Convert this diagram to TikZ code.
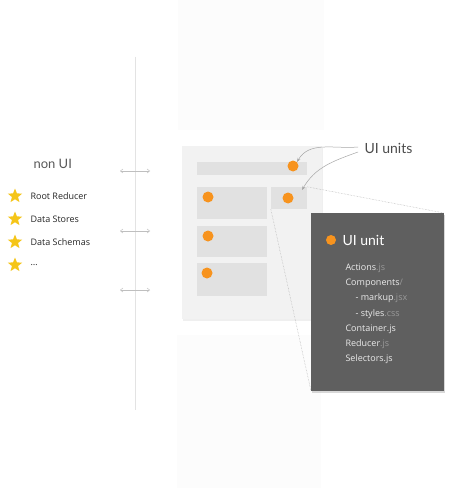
\documentclass[tikz,border=0pt]{standalone}
\usepackage{fontspec}
\setmainfont{Open Sans}
\newfontfamily\thinfont{Lato}
\usetikzlibrary{shapes.geometric,shadows,arrows.meta}

\definecolor{pagegray}{HTML}{F2F2F2}
\definecolor{bargray}{HTML}{E1E1E1}
\definecolor{ghostgray}{HTML}{FCFCFC}
\definecolor{unitorange}{HTML}{F7931E}
\definecolor{paneldark}{HTML}{5F5F5F}
\definecolor{stargold}{HTML}{F5C518}
\definecolor{linegray}{HTML}{C8C8C8}

\tikzset{
  bar/.style={fill=bargray, inner sep=0pt},
  unitdot/.style={circle, fill=unitorange, inner sep=0pt, minimum size=11pt},
  starmark/.style={star, star points=5, star point ratio=2.3, fill=stargold,
    inner sep=0pt, minimum size=15pt},
  item/.style={anchor=west, font=\fontsize{9}{10}\selectfont, text=black!85},
  file/.style={anchor=west, font=\fontsize{9}{10}\selectfont, text=white!92!black},
}

\begin{document}
\begin{tikzpicture}[x=1pt,y=-1pt]

  \def\xmin{0}
  \def\xmax{474}
  \def\ymin{0}
  \def\ymax{492}

  \useasboundingbox[fill=white] (\xmin,\ymin) rectangle (\xmax,\ymax);

  % divider
  \draw[linegray!50, line width=0.6pt] (135,57) -- (135,410);

  % ghost pages
  \fill[ghostgray] (178,0) rectangle (324,130);
  \fill[ghostgray] (177,335) rectangle (321,488);

  % page
  \node[fill=pagegray, inner sep=0pt, minimum width=140pt, minimum height=173pt,
        drop shadow={opacity=0.12, shadow xshift=1pt, shadow yshift=-2pt}]
        (page) at (252,232) {};
  \node[bar, minimum width=110pt, minimum height=13pt] (bartop) at (252,168.5) {};
  \node[bar, minimum width=70pt, minimum height=32pt] (boxa) at (232,203) {};
  \node[bar, minimum width=36pt, minimum height=22pt] (boxb) at (289,198) {};
  \node[bar, minimum width=70pt, minimum height=31pt] (boxc) at (232,241.5) {};
  \node[bar, minimum width=70pt, minimum height=33pt] (boxd) at (232,279.5) {};

  % ui units
  \node[unitdot] (dottop) at (293,166) {};
  \node[unitdot] (dota) at (208,197) {};
  \node[unitdot] (dotb) at (288,198) {};
  \node[unitdot] (dotc) at (208,236) {};
  \node[unitdot] (dotd) at (207,273) {};

  % zoom lines
  \coordinate (panelne) at (444,213);
  \coordinate (panelsw) at (311,391);
  \draw[gray!60, densely dotted, line width=0.5pt] (boxb.north east) -- (panelne);
  \draw[gray!60, densely dotted, line width=0.5pt] (boxb.south west) -- (panelsw);

  % panel
  \node[fill=paneldark, inner sep=0pt, minimum width=133pt, minimum height=178pt,
        drop shadow={opacity=0.3, shadow xshift=1pt, shadow yshift=-2pt}]
        (panel) at (377.5,302) {};
  \node[unitdot, minimum size=10pt] (paneldot) at (331,240) {};
  \node[anchor=west, text=white, font=\thinfont\fontsize{14}{14}\selectfont]
        (paneltitle) at (339,240) {UI unit};
  \node[file] (f1) at (342,268) {Actions\textcolor{white!60!black}{.js}};
  \node[file] (f2) at (342,283.5) {Components\textcolor{white!60!black}{/}};
  \node[file] (f3) at (352,298.5) {- markup\textcolor{white!60!black}{.jsx}};
  \node[file] (f4) at (352,314) {- styles\textcolor{white!60!black}{.css}};
  \node[file] (f5) at (342,329) {Container.js};
  \node[file] (f6) at (342,344.5) {Reducer\textcolor{white!60!black}{.js}};
  \node[file] (f7) at (342,359.5) {Selectors.js};

  % label and arrows
  \node[anchor=west, text=black!70, font=\thinfont\fontsize{14}{14}\selectfont]
        (units) at (361,148) {UI units};
  \draw[-{Stealth[length=4pt,width=3pt]}, gray!70, line width=0.5pt]
        (units.west) ++(-3,-1) to[out=185, in=60] (dottop.north east);
  \draw[-{Stealth[length=4pt,width=3pt]}, gray!70, line width=0.5pt]
        (units.west) ++(-3,4) to[out=200, in=60] (302,190);

  % non UI list
  \node[anchor=west, text=black!65, font=\thinfont\fontsize{13}{13}\selectfont]
        (nonui) at (30,164) {non UI};
  \foreach \y/\t [count=\i] in {196/Root Reducer, 219/Data Stores, 242/Data Schemas}{
    \node[starmark] (star\i) at (15,\y) {};
    \node[item] (item\i) at (27,\y) {\t};
  }
  \node[starmark] (star4) at (15,265) {};
  \node[item] (item4) at (27,265) {\ldots};

  % double arrows
  \foreach \y [count=\i] in {171,231,290}{
    \coordinate (al\i) at (120,\y);
    \coordinate (ar\i) at (150,\y);
    \draw[{Straight Barb[length=2.5pt,width=4pt]}-{Straight Barb[length=2.5pt,width=4pt]},
          gray!50, line width=0.5pt] (al\i) -- (ar\i);
  }

\end{tikzpicture}
\end{document}
